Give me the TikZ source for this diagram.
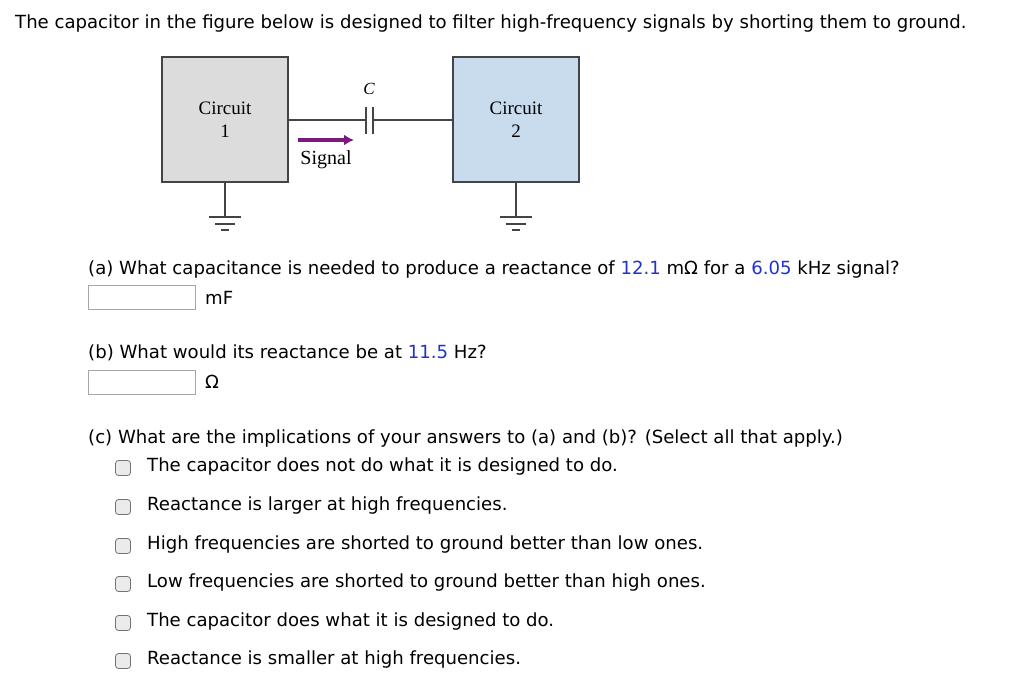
\documentclass[tikz,border=0pt]{standalone}
\usepackage{fontspec}
\usetikzlibrary{arrows.meta}
\setmainfont{DejaVu Sans}
\newfontfamily\serifc{Liberation Serif}
\definecolor{boxgray}{HTML}{DCDCDC}
\definecolor{boxblue}{HTML}{C8DCED}
\definecolor{numblue}{HTML}{2233CC}
\definecolor{sigpurple}{HTML}{7A1A7E}
\definecolor{wire}{HTML}{444444}
\begin{document}
\begin{tikzpicture}[x=1pt,y=-1pt,
  txt/.style={anchor=west,inner sep=0pt,font=\fontsize{18.1}{21}\selectfont},
  circ/.style={draw=wire,line width=1.8pt,minimum width=126pt,minimum height=125pt,inner sep=0pt,align=center,font=\serifc\fontsize{19}{23}\selectfont},
  ansbox/.style={draw=black!35,minimum width=107pt,minimum height=24pt,inner sep=0pt},
  chk/.style={draw=black!55,fill=black!8,rounded corners=3pt,minimum size=15pt,inner sep=0pt,line width=0.8pt},
  w/.style={draw=wire,line width=1.6pt}]
\useasboundingbox (0,0) rectangle (1024,697);
\fill[white] (0,0) rectangle (1024,697);
\node[txt] (title) at (15,24) {The capacitor in the figure below is designed to filter high-frequency signals by shorting them to ground.};
% circuits
\node[circ,fill=boxgray] (c1) at (225,119.5) {Circuit\\1};
\node[circ,fill=boxblue] (c2) at (516,119.5) {Circuit\\2};
\coordinate (p1) at (366,120);
\coordinate (p2) at (373,120);
\draw[w] (c1.east |- p1) -- (p1);
\draw[w] (p2) -- (c2.west |- p2);
\draw[w] (366,107) -- (366,134);
\draw[w] (373,107) -- (373,134);
\node[font=\serifc\itshape\fontsize{17}{19}\selectfont] (clab) at (369,89) {C};
\coordinate (a1) at (298,140);
\coordinate (a2) at (354,140);
\draw[sigpurple,line width=3.5pt,-{Latex[length=10pt,width=11pt]}] (a1) -- (a2);
\node[font=\serifc\fontsize{20}{22}\selectfont] (sig) at (326,160) {Signal};
% grounds
\foreach \gx/\nm in {225/g1,516/g2}{
  \coordinate (\nm) at (\gx,216);
  \draw[w] (\gx,182) -- (\nm);
  \draw[w] (\gx-16,217) -- (\gx+16,217);
  \draw[w] (\gx-10,224) -- (\gx+10,224);
  \draw[w] (\gx-4,230) -- (\gx+4,230);
}
% questions
\node[txt] (qa) at (88,269) {(a) What capacitance is needed to produce a reactance of \textcolor{numblue}{12.1} mΩ for a \textcolor{numblue}{6.05} kHz signal?};
\node[ansbox] (ba) at (141.5,297) {};
\node[txt] (ua) at (205,298) {mF};
\node[txt] (qb) at (88,353) {(b) What would its reactance be at \textcolor{numblue}{11.5} Hz?};
\node[ansbox] (bb) at (141.5,382) {};
\node[txt] (ub) at (205,382) {Ω};
\node[txt] (qc) at (88,438) {(c) What are the implications of your answers to (a) and (b)? (Select all that apply.)};
\foreach \yy/\t [count=\i] in {466/The capacitor does not do what it is designed to do.,
  505/Reactance is larger at high frequencies.,
  544/High frequencies are shorted to ground better than low ones.,
  582/Low frequencies are shorted to ground better than high ones.,
  621/The capacitor does what it is designed to do.,
  659/Reactance is smaller at high frequencies.}{
  \node[chk] (k\i) at (123,\yy+2) {};
  \node[txt] (t\i) at (147,\yy) {\t};
}
\end{tikzpicture}
\end{document}
